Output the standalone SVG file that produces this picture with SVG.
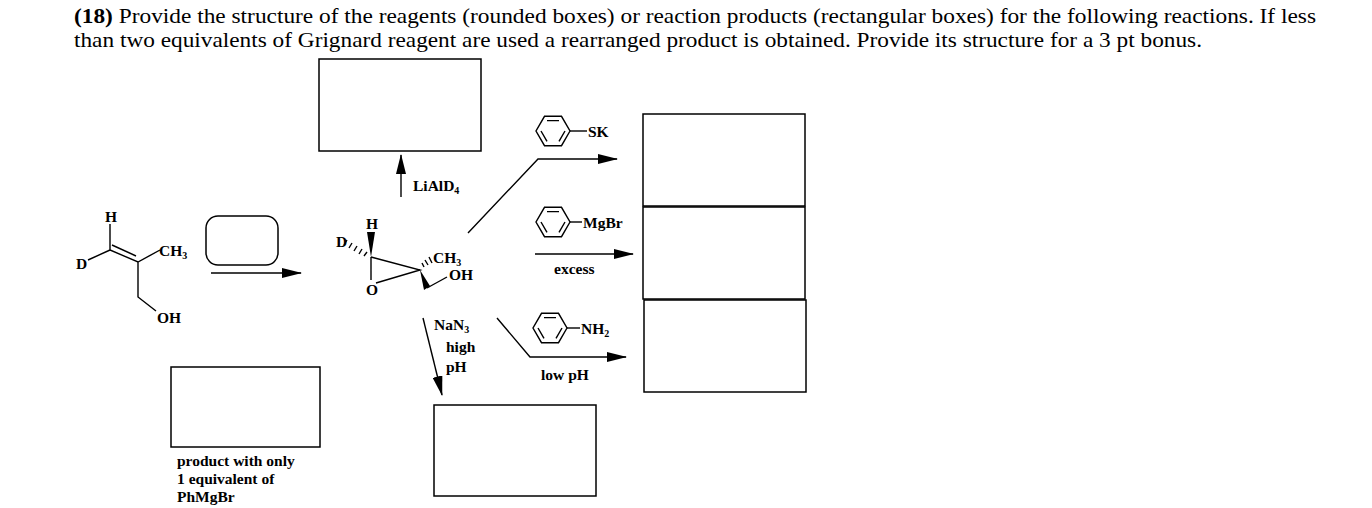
<svg xmlns="http://www.w3.org/2000/svg" width="1372" height="508" viewBox="0 0 1372 508">
<defs>
<style>
.t{font-family:"Liberation Serif",serif;font-size:21.5px;fill:#000}
.l{font-family:"Liberation Serif",serif;font-weight:bold;font-size:15.5px;fill:#000}
.s{font-size:10px}
.b{fill:none;stroke:#000;stroke-width:1.5}
.k{fill:none;stroke:#000;stroke-width:1.4}
.ar{fill:none;stroke:#000;stroke-width:1.4;marker-end:url(#ah)}
</style>
<marker id="ah" markerWidth="20" markerHeight="10" refX="19" refY="5" orient="auto" markerUnits="userSpaceOnUse"><path d="M0,0 L20,5 L0,10 Z" fill="#000"/></marker>
<g id="bz"><polygon points="17,0 8.5,14.7 -8.5,14.7 -17,0 -8.5,-14.7 8.5,-14.7" class="k"/><path d="M12,0 L6,10.4 M-6,10.4 L-12,0 M-6,-10.4 L6,-10.4" class="k"/></g>
</defs>
<rect width="1372" height="508" fill="#fff"/>
<g id="title">
<text class="t" x="74" y="23" textLength="1242" lengthAdjust="spacingAndGlyphs"><tspan font-weight="bold">(18)</tspan>  Provide the structure of the reagents (rounded boxes) or reaction products (rectangular boxes) for the following reactions. If less</text>
<text class="t" x="74" y="47" textLength="1128" lengthAdjust="spacingAndGlyphs">than two equivalents of Grignard reagent are used a rearranged product is obtained.  Provide its structure for a 3 pt bonus.</text>
</g>
<g id="boxes">
<rect id="box-top" x="319" y="59" width="162" height="92" class="b"/>
<rect id="box-sk" x="643" y="114" width="162" height="92" class="b"/>
<rect id="box-mgbr" x="643" y="207" width="162" height="92" class="b"/>
<rect id="box-nh2" x="644" y="300" width="162" height="92" class="b"/>
<rect id="box-left" x="171" y="367" width="149" height="80" class="b"/>
<rect id="box-azide" x="434" y="405" width="162" height="91" class="b"/>
<rect id="box-reagent" x="206" y="216" width="72" height="49" rx="12" class="b"/>
</g>
<g id="start">
<path d="M110,224 L110,250 L138,262 L160,250 M110,250 L88,260 M112,245 L136,256 M138,262 L138,297 L156,311" class="k"/>
<text class="l" x="105" y="222">H</text>
<text class="l" x="76" y="269">D</text>
<text class="l" x="159" y="256">CH<tspan class="s" dy="3">3</tspan></text>
<text class="l" x="157" y="323">OH</text>
</g>
<g id="epoxide">
<polygon points="367,232 375,232 371,257" fill="#000"/>
<path d="M371,257 L371,280 M376,283 L420,270 L371,257" class="k"/>
<path d="M344,245 L347,240 M349,248 L352,243 M354,251 L357,246 M359,254 L362,249 M364,256 L367,252" class="k" stroke-width="1.3"/>
<path d="M424,267 L422,263 M428,265 L425,260 M432,263 L429,257" class="k" stroke-width="1.3"/>
<polygon points="420,270 430,286 424,290" fill="#000"/>
<path d="M427,288 L447,277" class="k"/>
<text class="l" x="366" y="229">H</text>
<text class="l" x="336" y="247">D</text>
<text class="l" x="366" y="295">O</text>
<text class="l" x="433" y="263">CH<tspan class="s" dy="3">3</tspan></text>
<text class="l" x="449" y="280">OH</text>
</g>
<g id="connectors">
<line x1="211" y1="273" x2="301" y2="273" class="ar"/>
<line x1="401" y1="197" x2="401" y2="155" class="ar"/>
<path d="M468,233 L538,159 L617,159" class="ar"/>
<line x1="535" y1="254" x2="633" y2="254" class="ar"/>
<line x1="423" y1="318" x2="442" y2="395" class="ar"/>
<path d="M497,318 L530,357 L626,357" class="ar"/>
</g>
<g id="reagents">
<text class="l" x="413" y="191">LiAlD<tspan class="s" dy="3">4</tspan></text>
<use href="#bz" x="553" y="131"/><line x1="570" y1="131" x2="587" y2="131" class="k"/>
<text class="l" x="588" y="137">SK</text>
<use href="#bz" x="553" y="222"/><line x1="570" y1="222" x2="582" y2="222" class="k"/>
<text class="l" x="583" y="228">MgBr</text>
<text class="l" x="554" y="274">excess</text>
<use href="#bz" x="550" y="328"/><line x1="567" y1="328" x2="580" y2="328" class="k"/>
<text class="l" x="581" y="334">NH<tspan class="s" dy="3">2</tspan></text>
<text class="l" x="541" y="380">low pH</text>
<text class="l" x="434" y="330">NaN<tspan class="s" dy="3">3</tspan></text>
<text class="l" x="446" y="352">high</text>
<text class="l" x="446" y="372">pH</text>
<text class="l" x="177" y="466">product with only</text>
<text class="l" x="177" y="484">1 equivalent of</text>
<text class="l" x="177" y="502">PhMgBr</text>
</g>
</svg>
